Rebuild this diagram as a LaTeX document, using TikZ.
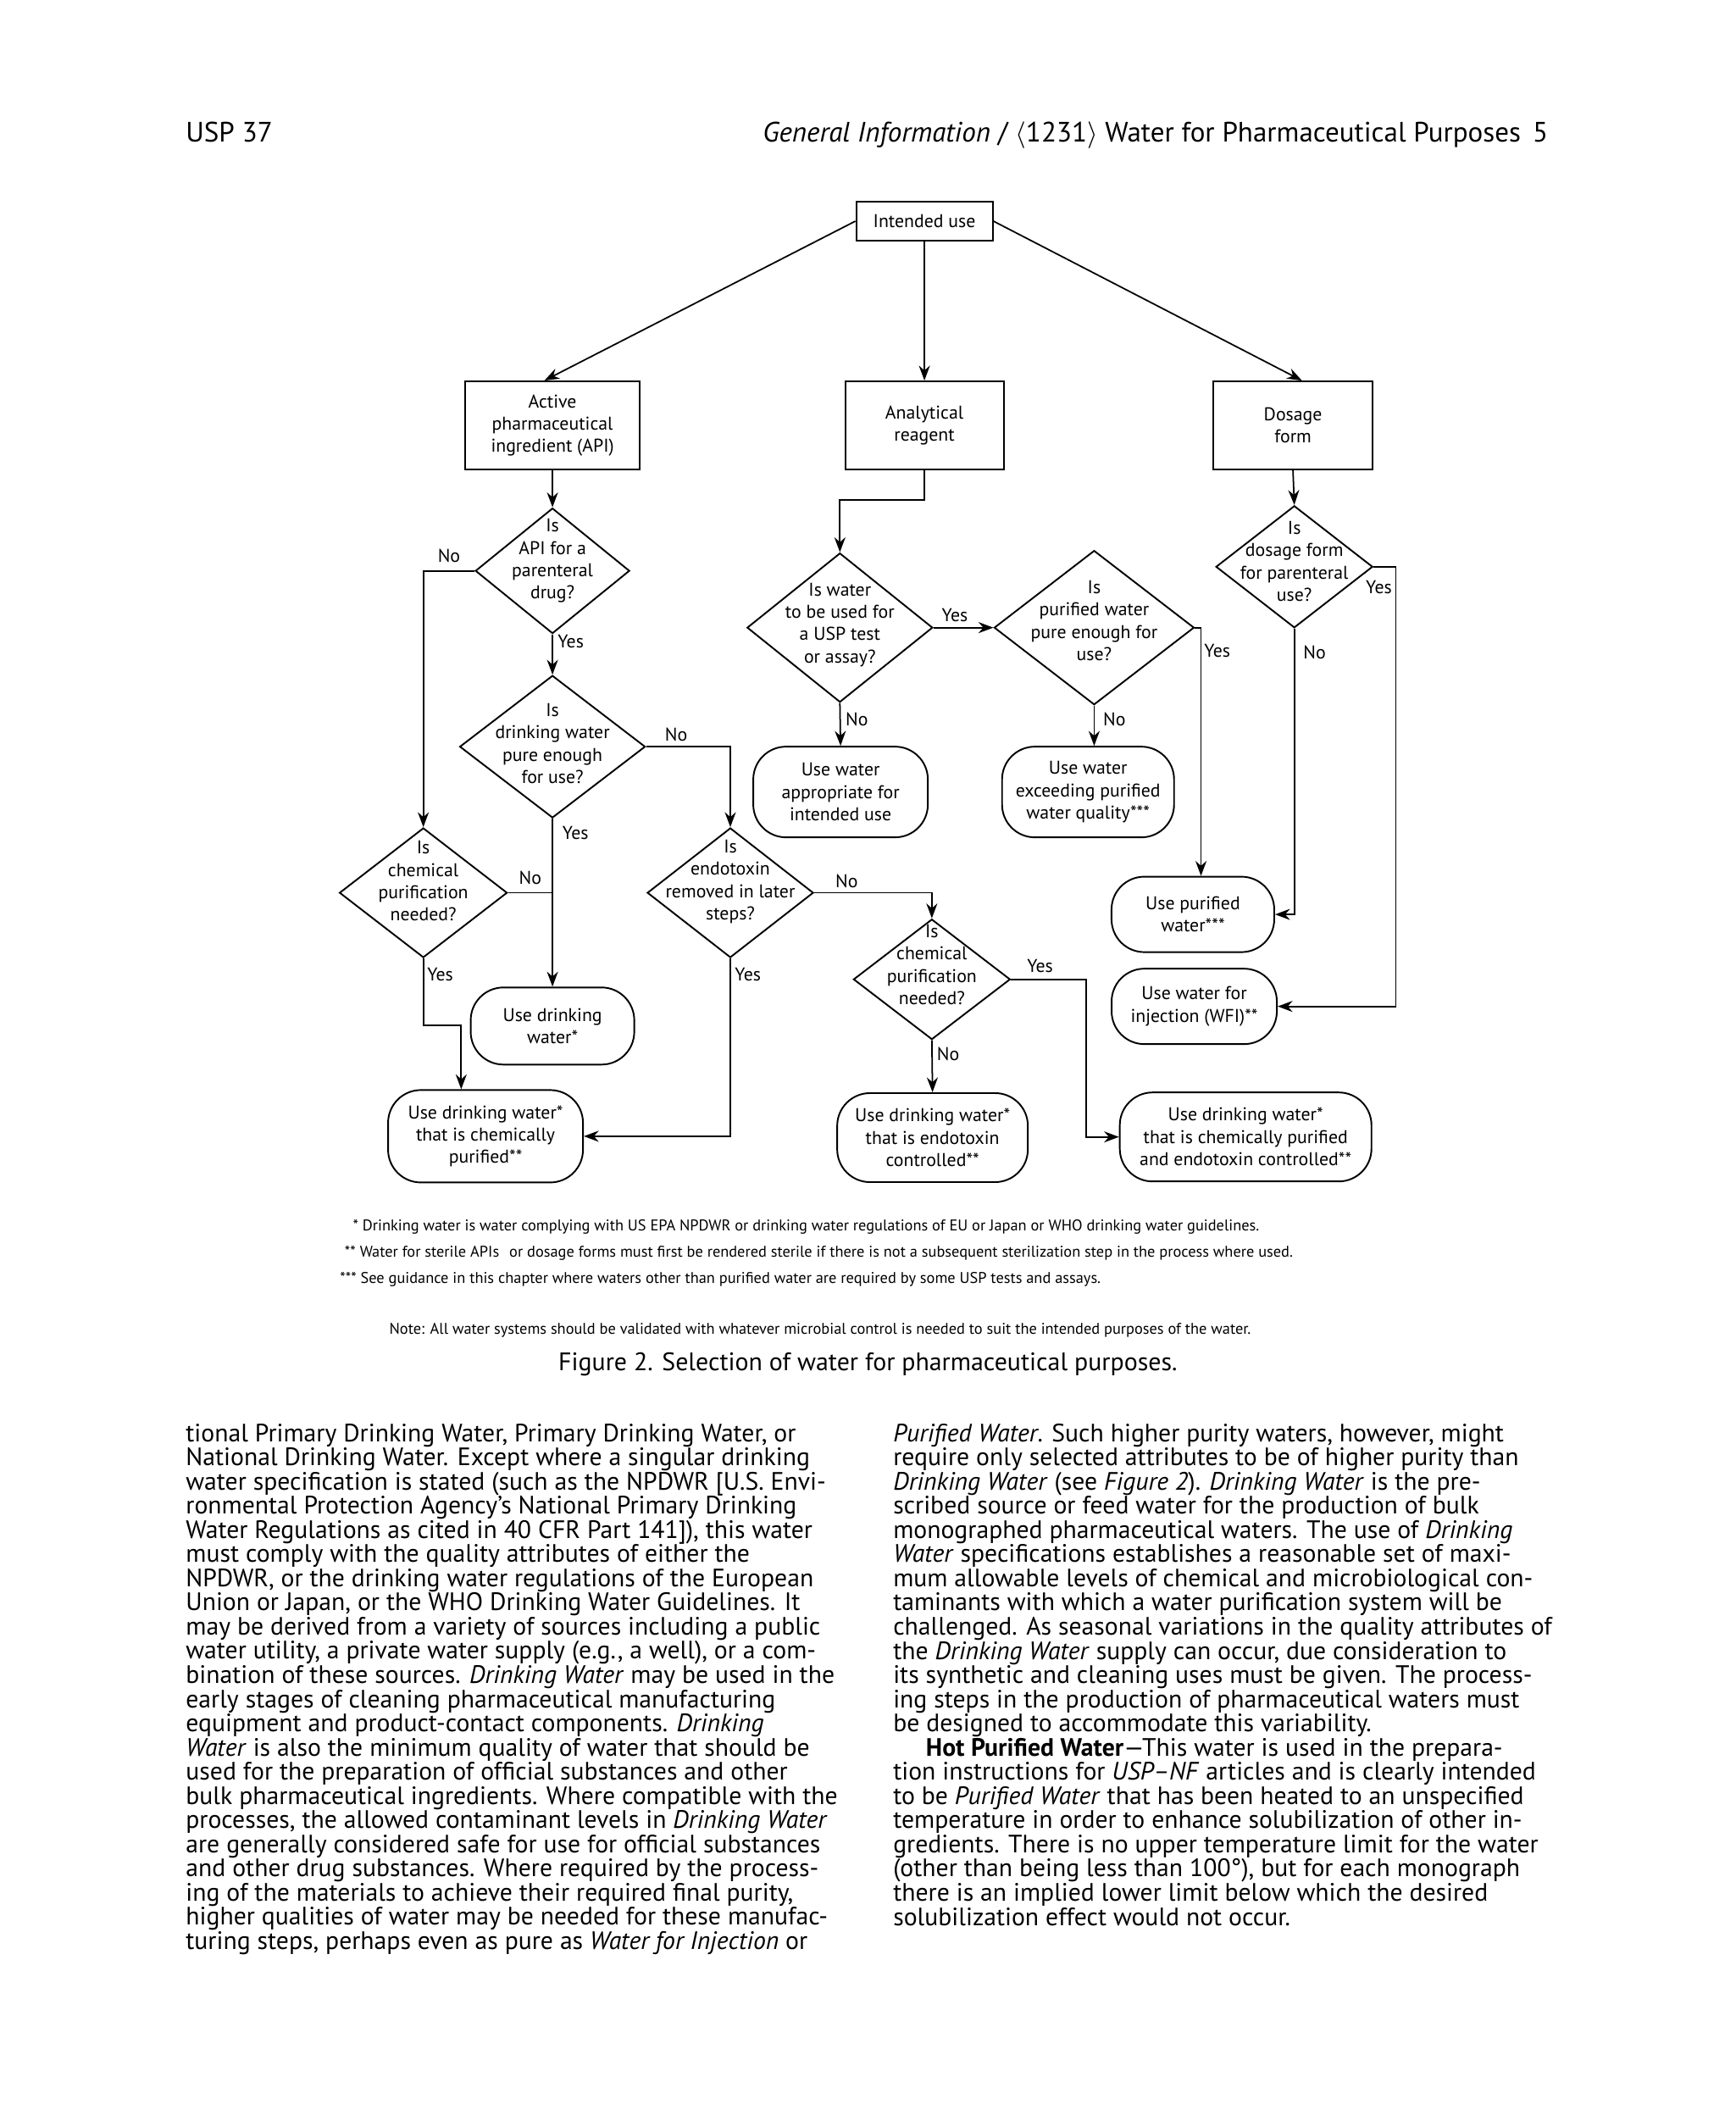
\documentclass[tikz,border=0pt]{standalone}
\usepackage{fontspec}
\setmainfont{PT Sans}
\usetikzlibrary{positioning,arrows.meta,shapes.geometric}

\newcommand{\chartfont}{\fontsize{6.2}{7.5}\selectfont}
\newcommand{\notefont}{\fontsize{5.22}{6}\selectfont}
\newcommand{\bodyfont}{\fontsize{8.45}{8.12}\selectfont\lineskiplimit=-20pt}
\newcommand{\headfont}{\fontsize{9.4}{10}\selectfont}
\newcommand{\capfont}{\fontsize{8.5}{10}\selectfont}
% diamond text in a zero-size box, so the diamond keeps its own size
\newcommand{\asktext}[2][0pt]{\makebox[0pt]{\smash{\raisebox{#1}{\begin{tabular}{@{}c@{}}#2\end{tabular}}}}}

\begin{document}
\begin{tikzpicture}[x=0.015963cm, y=-0.015963cm,
  sqbox/.style={draw, line width=0.55pt, align=center, font=\chartfont, inner sep=1pt},
  endbox/.style={sqbox, rounded corners=11pt},
  ask/.style={diamond, draw, line width=0.55pt, inner sep=0pt, font=\chartfont},
  arr/.style={-{Stealth[length=5pt,width=3.7pt]}, line width=0.5pt},
  lbl/.style={font=\chartfont, inner sep=0pt},
  fnote/.style={font=\notefont, inner sep=0pt, anchor=base west},
  col/.style={font=\bodyfont, align=left, inner sep=0pt, anchor=north west}]

  \useasboundingbox (0,0) rectangle (1283,1568);
  \fill[white] (0,0) rectangle (1283,1568);

  % running head
  \node[font=\headfont, anchor=base west, inner sep=0pt] (headl) at (137,105) {USP 37};
  \node[font=\headfont, anchor=base east, inner sep=0pt] (headr) at (1145,105)
      {\textit{General Information} / $\langle$1231$\rangle$ Water for Pharmaceutical Purposes\hspace{4pt}5};

  % first level
  \node[sqbox, minimum width=1.61cm, minimum height=0.46cm] (use) at (683.5,163.5) {Intended use};
  \node[sqbox, minimum width=2.06cm, minimum height=1.04cm] (api) at (408.5,314.5)
      {Active\\pharmaceutical\\ingredient (API)};
  \node[sqbox, minimum width=1.87cm, minimum height=1.04cm] (reag) at (683.5,314.5) {Analytical\\reagent};
  \node[sqbox, minimum width=1.88cm, minimum height=1.04cm] (dform) at (956,314.5) {Dosage\\form};

  % questions
  \node[ask, minimum width=1.82cm, minimum height=1.48cm] (q1) at (408.5,422)
      {\asktext[1.8pt]{Is\\API for a\\parenteral\\drug?}};
  \node[ask, minimum width=2.19cm, minimum height=1.68cm] (q2) at (408.5,552)
      {\asktext[-1.1pt]{Is\\drinking water\\pure enough\\for use?}};
  \node[ask, minimum width=1.98cm, minimum height=1.53cm] (q3) at (313,660)
      {\asktext[1.8pt]{Is\\chemical\\purification\\needed?}};
  \node[ask, minimum width=1.96cm, minimum height=1.53cm] (q4) at (540,660)
      {\asktext[2.1pt]{Is\\endotoxin\\removed in later\\steps?}};
  \node[ask, minimum width=1.85cm, minimum height=1.42cm] (q5) at (689,724)
      {\asktext[2.8pt]{Is\\chemical\\purification\\needed?}};
  \node[ask, minimum width=2.19cm, minimum height=1.76cm] (q6) at (621,464)
      {\asktext[-0.6pt]{Is water\\to be used for\\a USP test\\or assay?}};
  \node[ask, minimum width=2.36cm, minimum height=1.82cm] (q7) at (809,464)
      {\asktext[0.2pt]{Is\\purified water\\pure enough for\\use?}};
  \node[ask, minimum width=1.85cm, minimum height=1.44cm] (q8) at (957,419)
      {\asktext[-0.3pt]{Is\\dosage form\\for parenteral\\use?}};

  % outcomes
  \node[endbox, minimum width=1.93cm, minimum height=0.91cm] (dw) at (408.5,758.5) {Use drinking\\water*};
  \node[endbox, minimum width=2.30cm, minimum height=1.09cm] (cp) at (359,840)
      {Use drinking water*\\that is chemically\\purified**};
  \node[endbox, minimum width=2.25cm, minimum height=1.05cm] (ec) at (689.5,841)
      {Use drinking water*\\that is endotoxin\\controlled**};
  \node[endbox, minimum width=2.97cm, minimum height=1.05cm] (ce) at (921,840.5)
      {Use drinking water*\\that is chemically purified\\and endotoxin controlled**};
  \node[endbox, minimum width=2.06cm, minimum height=1.07cm] (ap) at (621.5,585.5)
      {Use water\\appropriate for\\intended use};
  \node[endbox, minimum width=2.03cm, minimum height=1.07cm] (ex) at (804.5,585.5)
      {Use water\\exceeding purified\\water quality***};
  \node[endbox, minimum width=1.92cm, minimum height=0.89cm] (pw) at (882,676) {Use purified\\water***};
  \node[endbox, minimum width=1.95cm, minimum height=0.89cm] (wfi) at (883,744)
      {Use water for\\injection (WFI)**};

  % bends
  \coordinate (k1) at (341,758);
  \coordinate (k2) at (803,724);
  \coordinate (k3) at (888,464);
  \coordinate (k4) at (1032,419);

  % connectors
  \draw[arr] (use.west) -- ([xshift=-2.7pt]api.north);
  \draw[arr] (use.south) -- (reag.north);
  \draw[arr] (use.east) -- ([xshift=3pt]dform.north);
  \draw[arr] (api.south) -- (q1.north);
  \draw[arr] (q1.west) -| (q3.north);
  \draw[arr] (q1.south) -- (q2.north);
  \draw[arr] (q2.east) -| (q4.north);
  \draw[arr] (q2.south) -- (dw.north);
  \draw[line width=0.5pt] (q3.east) -- (q3.east -| dw.north);
  \draw[arr] (q3.south) |- (k1) -- (k1 |- cp.north);
  \draw[arr] (q4.east) -| (q5.north);
  \draw[arr] (q4.south) |- (cp.east);
  \draw[arr] (q5.east) -- (k2) |- (ce.west);
  \draw[arr] (q5.south) -- (ec.north);
  \draw[arr] (reag.south) -- ++(0,22) -| (q6.north);
  \draw[arr] (q6.east) -- (q7.west);
  \draw[arr] (q6.south) -- (ap.north);
  \draw[arr] (q7.south) -- (q7.south |- ex.north);
  \draw[arr] (q7.east) -- (k3) -- (k3 |- pw.north);
  \draw[arr] (dform.south) -- (q8.north);
  \draw[arr] (q8.east) -- (k4) |- (wfi.east);
  \draw[arr] (q8.south) |- (pw.east);

  % yes / no
  \node[lbl] (n1) at (332,411) {No};
  \node[lbl] (y1) at (422,474) {Yes};
  \node[lbl] (n2) at (500,543) {No};
  \node[lbl] (y2) at (425.5,615.5) {Yes};
  \node[lbl] (n3) at (392,649) {No};
  \node[lbl] (y3) at (325.5,720.5) {Yes};
  \node[lbl] (n4) at (626,651.5) {No};
  \node[lbl] (y4) at (553,720.5) {Yes};
  \node[lbl] (y5) at (769,714) {Yes};
  \node[lbl] (n5) at (701,779) {No};
  \node[lbl] (y6) at (706,455) {Yes};
  \node[lbl] (n6) at (633.5,531.5) {No};
  \node[lbl] (n7) at (824,531.5) {No};
  \node[lbl] (y7) at (900,481) {Yes};
  \node[lbl] (y8) at (1019.5,434) {Yes};
  \node[lbl] (n8) at (972,482) {No};

  % footnotes and caption
  \node[fnote] (fn1) at (260.5,910)
      {* Drinking water is water complying with US EPA NPDWR or drinking water regulations of EU or Japan or WHO drinking water guidelines.};
  \node[fnote] (fn2) at (254.5,929.5)
      {** Water for sterile APIs\hspace{2pt} or dosage forms must first be rendered sterile if there is not a subsequent sterilization step in the process where used.};
  \node[fnote] (fn3) at (251,948.5)
      {*** See guidance in this chapter where waters other than purified water are required by some USP tests and assays.};
  \node[fnote] (remark) at (287.5,986.5)
      {Note: All water systems should be validated with whatever microbial control is needed to suit the intended purposes of the water.};
  \node[font=\capfont, anchor=base west, inner sep=0pt] (cap) at (412.5,1013)
      {Figure 2. Selection of water for pharmaceutical purposes.};

  % body text
  \node[col] (colL) at (137,1052) {%
    tional Primary Drinking Water, Primary Drinking Water, or\\
    National Drinking Water. Except where a singular drinking\\
    water specification is stated (such as the NPDWR [U.S. Envi-\\
    ronmental Protection Agency’s National Primary Drinking\\
    Water Regulations as cited in 40 CFR Part 141]), this water\\
    must comply with the quality attributes of either the\\
    NPDWR, or the drinking water regulations of the European\\
    Union or Japan, or the WHO Drinking Water Guidelines. It\\
    may be derived from a variety of sources including a public\\
    water utility, a private water supply (e.g., a well), or a com-\\
    bination of these sources. \textit{Drinking Water} may be used in the\\
    early stages of cleaning pharmaceutical manufacturing\\
    equipment and product-contact components. \textit{Drinking}\\
    \textit{Water} is also the minimum quality of water that should be\\
    used for the preparation of official substances and other\\
    bulk pharmaceutical ingredients. Where compatible with the\\
    processes, the allowed contaminant levels in \textit{Drinking Water}\\
    are generally considered safe for use for official substances\\
    and other drug substances. Where required by the process-\\
    ing of the materials to achieve their required final purity,\\
    higher qualities of water may be needed for these manufac-\\
    turing steps, perhaps even as pure as \textit{Water for Injection} or};
  \node[col] (colR) at (660,1052) {%
    \textit{Purified Water}. Such higher purity waters, however, might\\
    require only selected attributes to be of higher purity than\\
    \textit{Drinking Water} (see \textit{Figure 2}). \textit{Drinking Water} is the pre-\\
    scribed source or feed water for the production of bulk\\
    monographed pharmaceutical waters. The use of \textit{Drinking}\\
    \textit{Water} specifications establishes a reasonable set of maxi-\\
    mum allowable levels of chemical and microbiological con-\\
    taminants with which a water purification system will be\\
    challenged. As seasonal variations in the quality attributes of\\
    the \textit{Drinking Water} supply can occur, due consideration to\\
    its synthetic and cleaning uses must be given. The process-\\
    ing steps in the production of pharmaceutical waters must\\
    be designed to accommodate this variability.\\
    \hspace*{11pt}\textbf{Hot Purified Water}—This water is used in the prepara-\\
    tion instructions for \textit{USP–NF} articles and is clearly intended\\
    to be \textit{Purified Water} that has been heated to an unspecified\\
    temperature in order to enhance solubilization of other in-\\
    gredients. There is no upper temperature limit for the water\\
    (other than being less than 100°), but for each monograph\\
    there is an implied lower limit below which the desired\\
    solubilization effect would not occur.};
\end{tikzpicture}
\end{document}
